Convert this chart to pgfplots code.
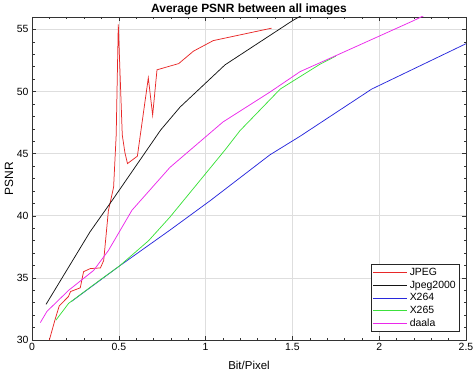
\documentclass[border=0pt]{standalone}
\usepackage{pgfplots}
\pgfplotsset{compat=1.18}
\usepackage{fontspec}
\setmainfont{Liberation Sans}
\definecolor{cjpeg}{RGB}{232,40,40}
\definecolor{cj2k}{RGB}{20,20,20}
\definecolor{cx264}{RGB}{40,40,220}
\definecolor{cx265}{RGB}{60,225,60}
\definecolor{cdaala}{RGB}{235,40,235}
\definecolor{gridc}{RGB}{222,222,222}
\begin{document}
\begin{tikzpicture}
\begin{axis}[
  scale only axis, width=434bp, height=323bp,
  xmin=0, xmax=2.5, ymin=30, ymax=56,
  xtick={0,0.5,1,1.5,2,2.5},
  xticklabels={0,0.5,1,1.5,2,2.5},
  ytick={30,35,40,45,50,55},
  minor x tick num=4, minor y tick num=4,
  grid=major, major grid style={gridc, line width=0.6pt},
  tick align=inside,
  major tick length=4bp, minor tick length=2.5bp,
  every tick/.style={black!80, line width=0.5pt},
  axis line style={black!80, line width=0.7pt},
  /pgf/number format/assume math mode=true,
  tick label style={font=\fontsize{10.5}{12}\selectfont},
  title={\textbf{Average PSNR between all images}},
  title style={at={(axis description cs:0.5,1+2/323)}, anchor=center, font=\fontsize{12}{14}\selectfont},
  xlabel={Bit/Pixel},
  xlabel style={at={(axis description cs:0.5,-25/323)}, anchor=center, font=\fontsize{11.5}{13}\selectfont},
  ylabel={PSNR},
  ylabel style={at={(axis description cs:-23/434,0.5)}, anchor=center, font=\fontsize{12}{14}\selectfont},
  legend style={at={(1-6/434,8/323)}, anchor=south east, draw=black!85, line width=0.6pt,
    font=\fontsize{10.5}{12}\selectfont, row sep=0pt, inner xsep=2pt, inner ysep=1.5pt},
  legend cell align=left,
  legend image code/.code={\draw[#1, line width=0.8pt] (0cm,0cm) -- (1.2cm,0cm);},
  every axis plot/.append style={line width=0.75pt},
]
\addplot[cjpeg] coordinates {
(0.10,30.0) (0.134,31.7) (0.157,32.75) (0.21,33.5) (0.222,33.9) (0.278,34.2)
(0.297,35.5) (0.336,35.75) (0.394,35.8) (0.413,36.4) (0.44,40.4) (0.47,42.3)
(0.485,46.5) (0.497,55.4) (0.52,46.5) (0.535,45.1) (0.55,44.2) (0.607,44.8)
(0.67,51.1) (0.695,48.1) (0.72,51.75) (0.845,52.25) (0.93,53.25) (1.044,54.1) (1.38,55.1)
};
\addlegendentry{JPEG}
\addplot[cj2k] coordinates {
(0.081,32.87) (0.334,38.7) (0.47,41.4) (0.741,46.9) (0.853,48.75) (1.112,52.15) (1.5,55.7) (1.6,56.5)
};
\addlegendentry{Jpeg2000}
\addplot[cx264] coordinates {
(0.227,33.1) (0.503,35.95) (0.795,38.85) (1.025,41.2) (1.37,44.9) (1.544,46.4) (1.957,50.2) (2.5,53.85)
};
\addlegendentry{X264}
\addplot[cx265] coordinates {
(0.138,31.6) (0.211,32.95) (0.384,34.75) (0.503,35.95) (0.672,38.0) (0.795,39.9)
(1.112,45.3) (1.198,46.85) (1.43,50.2) (1.659,52.2) (1.75,52.85)
};
\addlegendentry{X265}
\addplot[cdaala] coordinates {
(0.048,31.4) (0.086,32.3) (0.211,34.0) (0.355,35.6) (0.44,37.2) (0.576,40.45)
(0.795,43.9) (1.10,47.55) (1.371,49.96) (1.544,51.6) (1.736,52.8) (2.197,55.7) (2.3,56.4)
};
\addlegendentry{daala}
\end{axis}
\pgfresetboundingbox
\useasboundingbox (-32bp,-34bp) rectangle (442bp,340bp);
\end{tikzpicture}
\end{document}
